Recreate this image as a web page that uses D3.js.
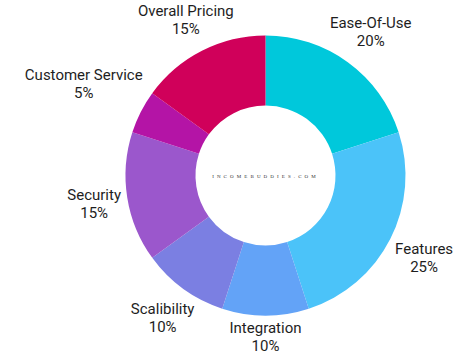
<!DOCTYPE html>
<html>
<head>
<meta charset="utf-8">
<script src="https://cdn.jsdelivr.net/npm/d3@7"></script>
<style>
  html, body { margin: 0; padding: 0; background: #ffffff; }
  svg { display: block; }
</style>
</head>
<body>
<svg id="chart" width="474" height="355"></svg>
<script>
// ---- data ----
const categories = ["Ease-Of-Use", "Features", "Integration", "Scalibility", "Security", "Customer Service", "Overall Pricing"];
const values = [20, 25, 10, 10, 15, 5, 15];
const valueLabels = ["20%", "25%", "10%", "10%", "15%", "5%", "15%"];
const colors = ["#00c8db", "#4bc3f9", "#63a3f7", "#7b7fe2", "#9b57cc", "#b414a6", "#d0005a"];
const watermark = "INCOMEBUDDIES.COM";

// ---- layout ----
const W = 474, H = 355;
const cx = 265.5, cy = 175.5;
const outerR = 140, innerR = 70;
const fontFamily = "Roboto, 'Open Sans', sans-serif";
const fontSize = 15;
const lineGap = 18;
const labelGap = 5;
const labelDy = 1.5;

const svg = d3.select("#chart");
const g = svg.append("g").attr("transform", `translate(${cx},${cy})`);

const data = categories.map((c, i) => ({ name: c, value: values[i], label: valueLabels[i], color: colors[i] }));

const pie = d3.pie().value(d => d.value).sort(null).startAngle(0).endAngle(2 * Math.PI);
const arc = d3.arc().innerRadius(innerR).outerRadius(outerR);
const arcs = pie(data);

g.selectAll("path.slice")
  .data(arcs)
  .join("path")
  .attr("class", "slice")
  .attr("d", arc)
  .attr("fill", d => d.data.color);

// watermark
g.append("text")
  .attr("x", 0)
  .attr("y", 2.8)
  .attr("text-anchor", "middle")
  .attr("font-family", "'Liberation Serif', 'DejaVu Serif', serif")
  .attr("font-size", 5)
  .attr("letter-spacing", 3.1)
  .attr("fill", "#333")
  .text(watermark);

// labels: one text element per slice, two lines as tspans
const labels = g.selectAll("text.label")
  .data(arcs)
  .join("text")
  .attr("class", "label")
  .attr("text-anchor", "middle")
  .attr("font-family", fontFamily)
  .attr("font-size", fontSize)
  .attr("fill", "#1e1e1e");

labels.append("tspan").attr("class", "l1").text(d => d.data.name);
labels.append("tspan").attr("class", "l2").text(d => d.data.label);

labels.each(function(d) {
  const sel = d3.select(this);
  const w1 = sel.select(".l1").node().getComputedTextLength();
  const w2 = sel.select(".l2").node().getComputedTextLength();
  const w = Math.max(w1, w2);
  const capH = fontSize * 0.71;
  const h = lineGap + capH + 1;
  const a = (d.startAngle + d.endAngle) / 2;
  const sx = Math.sin(a), sy = -Math.cos(a);
  let r = outerR;
  for (; r < 320; r += 0.5) {
    const px = r * sx, py = r * sy;
    const x0 = px - w / 2, x1 = px + w / 2, y0 = py - h / 2, y1 = py + h / 2;
    const nx = Math.max(x0, Math.min(0, x1));
    const ny = Math.max(y0, Math.min(0, y1));
    if (Math.hypot(nx, ny) >= outerR + labelGap) break;
  }
  const px = r * sx, py = r * sy;
  const top = py - h / 2 + labelDy;
  sel.select(".l1").attr("x", px).attr("y", top + capH);
  sel.select(".l2").attr("x", px).attr("y", top + capH + lineGap);
});
</script>
</body>
</html>
